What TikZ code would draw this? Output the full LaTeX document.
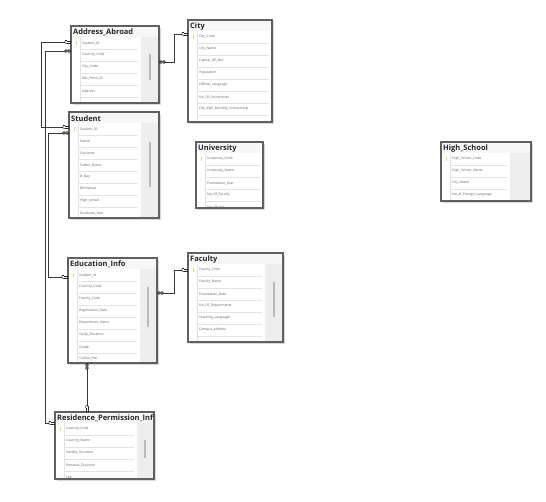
\documentclass[tikz,border=0pt]{standalone}
\usepackage{fontspec}
\setmainfont{Open Sans}
\usetikzlibrary{fit,calc}
\tikzset{
  tblbox/.style={inner sep=0pt, outer sep=0pt},
  tblborder/.style={draw=gray!75!black, line width=1.3pt},
  tblshadow/.style={fill=gray!30},
  titlebg/.style={fill=gray!6},
  panelbg/.style={fill=gray!13},
  rowline/.style={draw=gray!22, line width=0.5pt},
  titletext/.style={font=\fontsize{7.5}{8}\selectfont\bfseries, text=black!85, inner sep=0pt, anchor=west},
  rowtext/.style={font=\fontsize{3.4}{4}\selectfont, text=gray!75!black, inner sep=0pt, anchor=west},
  scrollbar/.style={draw=gray!55, line width=2.2pt},
  conn/.style={draw=gray!45!black, line width=0.6pt},
  sym/.style={draw=gray!30!black, line width=0.6pt},
  keyend/.pic={
    \draw[sym] (-7,0) -- (-6.6,0);
    \draw[sym] (-4.9,0) ++(60:1.7) arc (60:300:1.7);
    \draw[sym] (-3.6,0.8) -- (0,0.8);
    \draw[sym] (-3.6,-0.8) -- (0,-0.8);
  },
  manyend/.pic={
    \draw[sym] (-7,0) -- (-6.4,0);
    \draw[sym] (-5,0) circle (1.35);
    \draw[sym] (-2,0) circle (1.35);
    \draw[sym] (-0.65,0) -- (0,0);
  }
}
% #1 name, #2 x1, #3 y1, #4 x2, #5 y2, #6 title, #7 rows, #8 panel x
\newcommand\ertbl[8]{%
  \fill[tblshadow] (#2+1.5,#3+1.5) rectangle (#4+1.5,#5+1.5);
  \node[tblbox, fill=white, fit={(#2,#3)(#4,#5)}] (#1) {};
  \begin{scope}
    \clip (#2,#3) rectangle (#4,#5);
    \fill[titlebg] (#2,#3) rectangle (#4,#3+11);
    \fill[panelbg] (#8,#3+11) rectangle (#4,#5);
    \node[titletext] at (#2+2,#3+6.5) {#6};
    \foreach \r [count=\i] in {#7} {
      \node[rowtext] at (#2+11,#3+5+12*\i) {\r};
      \draw[rowline] (#2+9,#3+11+12*\i) -- (#8-3,#3+11+12*\i);
    }
    \draw[rowline] (#2+9,#3+11) -- (#2+9,#5);
    \draw[draw=yellow!60!orange!70!white, line width=0.8pt] (#2+5,#3+15) -- (#2+5,#3+19);
  \end{scope}
  \draw[tblborder] (#2,#3) rectangle (#4,#5);
}
\begin{document}
\begin{tikzpicture}[x=1pt,y=-1pt]
\useasboundingbox[fill=white] (0,0) rectangle (546,501);

\ertbl{aa}{71}{26}{159}{103}{Address\_Abroad}{Student\_ID,Country\_Code,City\_Code,Res\_Perm\_ID,Address}{141}
\draw[scrollbar] (150,54) -- (150,80);

\ertbl{city}{188}{20}{272}{122}{City}{City\_Code,City\_Name,Capital\_OR\_Not,Population,Official\_Language,No\_Of\_Universities,City\_Mall\_Monthly\_Scholarship}{272}

\ertbl{st}{69}{112}{159}{218}{Student}{Student\_ID,Name,Surname,Father\_Name,B\_Day,Birthplace,High\_school,Graduate\_Year}{141}
\draw[scrollbar] (150,142) -- (150,187);

\ertbl{uni}{196}{142}{263}{208}{University}{University\_Code,University\_Name,Foundation\_Year,No\_Of\_Faculty,No\_Of\_Inst}{263}

\ertbl{hs}{441}{142}{531}{201}{High\_School}{High\_School\_Code,High\_School\_Name,City\_Name,No\_of\_Foreign\_Language}{510}

\ertbl{ed}{68}{258}{157}{363}{Education\_Info}{Student\_Id,Country\_Code,Faculty\_Code,Registration\_Date,Department\_Name,Study\_Duration,Grade,Tuition\_Fee}{140}
\draw[scrollbar] (148,287) -- (148,327);

\ertbl{fa}{188}{253}{283}{342}{Faculty}{Faculty\_Code,Faculty\_Name,Foundation\_Date,No\_Of\_Departments,Teaching\_Language,Campus\_address}{265}
\draw[scrollbar] (274,282) -- (274,317);

\ertbl{rp}{55}{412}{154}{479}{Residence\_Permission\_Inf}{Country\_Code,Country\_Name,Validity\_Duration,Renewal\_Duration,Fee}{137}
\draw[scrollbar] (145,440) -- (145,458);

% connector end points
\coordinate (aa1) at ($(aa.west |- 0,42)+(-7,0)$);
\coordinate (aa2) at ($(aa.west |- 0,51)+(-7,0)$);
\coordinate (aa3) at ($(aa.east |- 0,62)+(7,0)$);
\coordinate (st1) at ($(st.west |- 0,127)+(-7,0)$);
\coordinate (st2) at ($(st.west |- 0,133)+(-7,0)$);
\coordinate (ed1) at ($(ed.west |- 0,277)+(-7,0)$);
\coordinate (ed2) at ($(ed.east |- 0,293)+(7,0)$);
\coordinate (ed3) at ($(ed.south -| 87,0)+(0,7)$);
\coordinate (rp1) at ($(rp.west |- 0,423)+(-7,0)$);
\coordinate (rp2) at ($(rp.north -| 87,0)+(0,-7)$);
\coordinate (ci1) at ($(city.west |- 0,34)+(-7,0)$);
\coordinate (fa1) at ($(fa.west |- 0,270)+(-7,0)$);

% connectors
\draw[conn] (aa1) -- (41,42) |- (st1);
\draw[conn] (aa2) -- (45,51) |- (rp1);
\draw[conn] (st2) -- (48,133) |- (ed1);
\draw[conn] (aa3) -- (174,62) |- (ci1);
\draw[conn] (ed2) -- (174,293) |- (fa1);
\draw[conn] (ed3) -- (rp2);

% end symbols
\pic at (aa.west |- 0,42) {keyend};
\pic at (aa.west |- 0,51) {manyend};
\pic at (st.west |- 0,127) {keyend};
\pic at (st.west |- 0,133) {manyend};
\pic at (ed.west |- 0,277) {keyend};
\pic at (rp.west |- 0,423) {keyend};
\pic at (city.west |- 0,34) {keyend};
\pic at (fa.west |- 0,270) {keyend};
\pic[rotate=180] at (aa.east |- 0,62) {manyend};
\pic[rotate=180] at (ed.east |- 0,293) {manyend};
\pic[rotate=90] at (ed.south -| 87,0) {manyend};
\pic[rotate=-90] at (rp.north -| 87,0) {keyend};
\end{tikzpicture}
\end{document}
